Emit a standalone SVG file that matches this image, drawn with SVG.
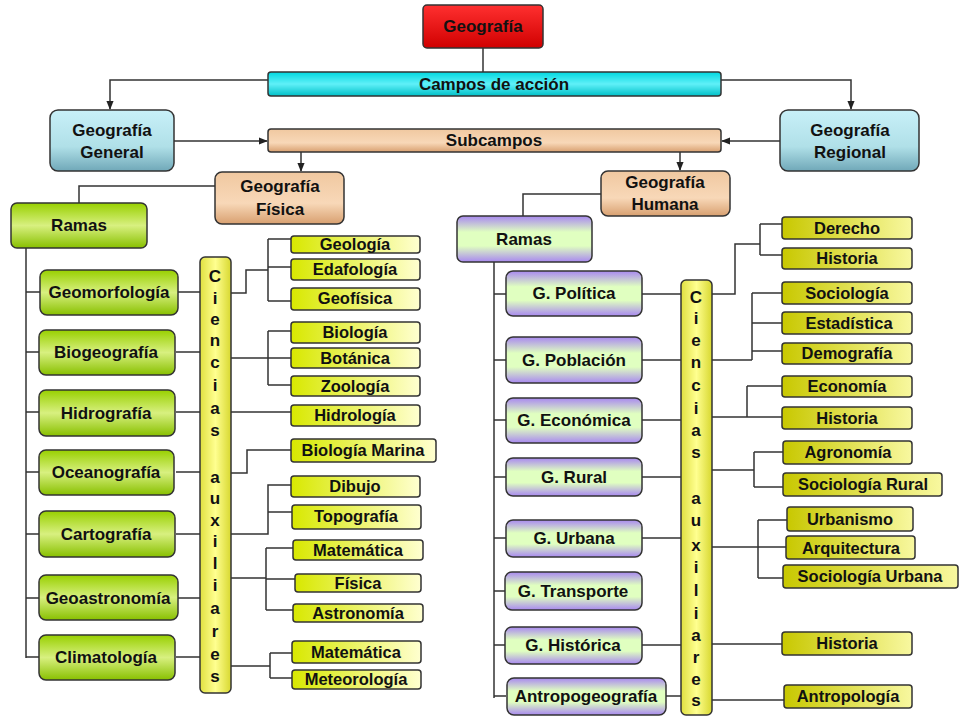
<svg xmlns="http://www.w3.org/2000/svg" width="960" height="720" viewBox="0 0 960 720">
<defs>
<linearGradient id="gRed" x1="0" y1="0" x2="0" y2="1"><stop offset="0" stop-color="#ff3030"/><stop offset="1" stop-color="#d00000"/></linearGradient>
<linearGradient id="gCyan" x1="0" y1="0" x2="0" y2="1"><stop offset="0" stop-color="#00d8e0"/><stop offset=".5" stop-color="#60f0f8"/><stop offset="1" stop-color="#00c0c8"/></linearGradient>
<linearGradient id="gTan" x1="0" y1="0" x2="0" y2="1"><stop offset="0" stop-color="#f0c8a0"/><stop offset=".6" stop-color="#f8d8b8"/><stop offset="1" stop-color="#d8a070"/></linearGradient>
<linearGradient id="gBlue" x1="0" y1="0" x2="0" y2="1"><stop offset="0" stop-color="#c8f0f8"/><stop offset=".6" stop-color="#b0e0e8"/><stop offset="1" stop-color="#70a8b8"/></linearGradient>
<linearGradient id="gGreen" x1="0" y1="0" x2="0" y2="1"><stop offset="0" stop-color="#98d000"/><stop offset=".5" stop-color="#d8f080"/><stop offset="1" stop-color="#88c000"/></linearGradient>
<linearGradient id="gPurple" x1="0" y1="0" x2="0" y2="1"><stop offset="0" stop-color="#a888f0"/><stop offset=".35" stop-color="#e0ffc0"/><stop offset=".65" stop-color="#e0ffc0"/><stop offset="1" stop-color="#a888f0"/></linearGradient>
<linearGradient id="gYel" x1="0" y1="0" x2="1" y2="0"><stop offset="0" stop-color="#d8e800"/><stop offset="1" stop-color="#ffffd0"/></linearGradient>
<linearGradient id="gOlive" x1="0" y1="0" x2="1" y2="0"><stop offset="0" stop-color="#c8c800"/><stop offset="1" stop-color="#f8f8a0"/></linearGradient>
<linearGradient id="gCol" x1="0" y1="0" x2="1" y2="0"><stop offset="0" stop-color="#e0e040"/><stop offset=".5" stop-color="#ffff90"/><stop offset="1" stop-color="#d8d830"/></linearGradient>
<marker id="arr" viewBox="0 0 10 10" refX="9" refY="5" markerWidth="6" markerHeight="6" orient="auto"><path d="M0,1 L10,5 L0,9 z" fill="#222"/></marker>
</defs>
<style>
rect{stroke:#333;stroke-width:1.5}
text{font-family:"Liberation Sans",Arial,sans-serif;font-weight:bold;fill:#111;text-anchor:middle;dominant-baseline:central}
.m{font-size:17px}
.s{font-size:16.5px}
.v{font-size:17px}
#connectors path{fill:none;stroke:#333;stroke-width:1.5}
</style>
<g id="connectors">
<path d="M483,48V72"/>
<path d="M268,80H110V109" marker-end="url(#arr)"/>
<path d="M721,80H851V109" marker-end="url(#arr)"/>
<path d="M174,141H267" marker-end="url(#arr)"/>
<path d="M780,141H722" marker-end="url(#arr)"/>
<path d="M301,152V171" marker-end="url(#arr)"/>
<path d="M680,152V170" marker-end="url(#arr)"/>
<path d="M215,186H79V203"/>
<path d="M26,248V658"/>
<path d="M26,292H40M26,352H40M26,412H40M26,472H40M26,534H40M26,598H40M26,657H40"/>
<path d="M176,292H200M176,352H200M176,412H200M176,472H200M176,534H200M176,598H200M176,657H200"/>
<path d="M231,293H246V270H268M268,239V301M268,239H291M268,267H291M268,301H291"/>
<path d="M231,358H268M268,331V385M268,331H291M268,358H291M268,385H291"/>
<path d="M231,412H291"/>
<path d="M231,473H247V450H291"/>
<path d="M231,534H268V485H291M268,512H292"/>
<path d="M231,578H266M266,548V610M266,548H293M266,579H295M266,610H293"/>
<path d="M231,666H270M270,653V678M270,653H292M270,678H292"/>
<path d="M601,194H523V216"/>
<path d="M494,262V698"/>
<path d="M494,294H506M494,360H506M494,420H506M494,477H506M494,538H506M494,591H506M494,645H506M494,696H506"/>
<path d="M642,294H681M642,360H681M642,420H681M642,477H681M642,538H681M642,645H681M666,696H681"/>
<path d="M712,294H735V244H760M760,224V255M760,224H782M760,255H782"/>
<path d="M712,360H752M752,293V360M752,293H782M752,323H782M752,351H782"/>
<path d="M712,417H747M747,386V417M747,386H782M747,417H782"/>
<path d="M712,470H754M754,452V487M754,452H783M754,487H783"/>
<path d="M712,547H786M758,520V578M758,520H787M758,578H783"/>
<path d="M712,644H782"/>
<path d="M712,700H784"/>
</g>
<g id="geografia"><rect x="423" y="5" width="120" height="43" rx="4" fill="url(#gRed)"/><text class="m" x="483" y="26">Geografía</text></g>
<g id="campos"><rect x="268" y="72" width="453" height="24" rx="3" fill="url(#gCyan)"/><text class="m" x="494" y="84">Campos  de acción</text></g>
<g id="subcampos"><rect x="268" y="129" width="453" height="23" rx="3" fill="url(#gTan)"/><text class="m" x="494" y="140">Subcampos</text></g>
<g id="general"><rect x="50" y="110" width="124" height="61" rx="8" fill="url(#gBlue)"/><text class="m" x="112" y="130">Geografía</text><text class="m" x="112" y="152">General</text></g>
<g id="regional"><rect x="780" y="110" width="139" height="61" rx="8" fill="url(#gBlue)"/><text class="m" x="850" y="130">Geografía</text><text class="m" x="850" y="152">Regional</text></g>
<g id="fisica"><rect x="215" y="172" width="129" height="52" rx="7" fill="url(#gTan)"/><text class="m" x="280" y="186">Geografía</text><text class="m" x="280" y="209">Física</text></g>
<g id="humana"><rect x="601" y="171" width="129" height="45" rx="7" fill="url(#gTan)"/><text class="m" x="665" y="182">Geografía</text><text class="m" x="665" y="204">Humana</text></g>
<g id="ramasF"><rect x="11" y="203" width="136" height="45" rx="6" fill="url(#gGreen)"/><text class="m" x="79" y="225">Ramas</text></g>
<g id="ramasH"><rect x="457" y="216" width="135" height="46" rx="6" fill="url(#gPurple)"/><text class="m" x="524" y="239">Ramas</text></g>
<g id="ramasFisica">
<rect x="40" y="270" width="138" height="45" rx="7" fill="url(#gGreen)"/><text class="m" x="109" y="292">Geomorfología</text>
<rect x="39" y="330" width="136" height="45" rx="7" fill="url(#gGreen)"/><text class="m" x="106" y="352">Biogeografía</text>
<rect x="39" y="390" width="136" height="46" rx="7" fill="url(#gGreen)"/><text class="m" x="106" y="413">Hidrografía</text>
<rect x="39" y="450" width="135" height="45" rx="7" fill="url(#gGreen)"/><text class="m" x="106" y="472">Oceanografía</text>
<rect x="39" y="511" width="136" height="46" rx="7" fill="url(#gGreen)"/><text class="m" x="106" y="534">Cartografía</text>
<rect x="39" y="575" width="139" height="45" rx="7" fill="url(#gGreen)"/><text class="m" x="108" y="598">Geoastronomía</text>
<rect x="39" y="635" width="136" height="45" rx="7" fill="url(#gGreen)"/><text class="m" x="106" y="657">Climatología</text>
</g>
<g id="cienciasF"><rect x="200" y="257" width="31" height="436" rx="5" fill="url(#gCol)"/>
<text class="v" x="215" y="276">C</text><text class="v" x="215" y="298">i</text><text class="v" x="215" y="319">e</text><text class="v" x="215" y="340">n</text><text class="v" x="215" y="362">c</text><text class="v" x="215" y="385">i</text><text class="v" x="215" y="408">a</text><text class="v" x="215" y="430">s</text><text class="v" x="215" y="477">a</text><text class="v" x="215" y="498">u</text><text class="v" x="215" y="520">x</text><text class="v" x="215" y="541">i</text><text class="v" x="215" y="563">l</text><text class="v" x="215" y="585">i</text><text class="v" x="215" y="608">a</text><text class="v" x="215" y="631">r</text><text class="v" x="215" y="654">e</text><text class="v" x="215" y="676">s</text>
</g>
<g id="auxF">
<rect x="291" y="236" width="129" height="17" rx="3" fill="url(#gYel)"/><text class="s" x="355" y="244">Geología</text>
<rect x="291" y="259" width="129" height="21" rx="3" fill="url(#gYel)"/><text class="s" x="355" y="269">Edafología</text>
<rect x="291" y="288" width="129" height="22" rx="3" fill="url(#gYel)"/><text class="s" x="355" y="298">Geofísica</text>
<rect x="291" y="322" width="129" height="21" rx="3" fill="url(#gYel)"/><text class="s" x="355" y="332">Biología</text>
<rect x="291" y="348" width="129" height="20" rx="3" fill="url(#gYel)"/><text class="s" x="355" y="358">Botánica</text>
<rect x="291" y="376" width="129" height="20" rx="3" fill="url(#gYel)"/><text class="s" x="355" y="386">Zoología</text>
<rect x="291" y="405" width="129" height="21" rx="3" fill="url(#gYel)"/><text class="s" x="355" y="415">Hidrología</text>
<rect x="291" y="439" width="145" height="23" rx="3" fill="url(#gYel)"/><text class="s" x="363" y="450">Biología Marina</text>
<rect x="291" y="476" width="129" height="21" rx="3" fill="url(#gYel)"/><text class="s" x="355" y="486">Dibujo</text>
<rect x="292" y="505" width="129" height="24" rx="3" fill="url(#gYel)"/><text class="s" x="356" y="516">Topografía</text>
<rect x="293" y="540" width="130" height="20" rx="3" fill="url(#gYel)"/><text class="s" x="358" y="550">Matemática</text>
<rect x="295" y="574" width="126" height="18" rx="3" fill="url(#gYel)"/><text class="s" x="358" y="583">Física</text>
<rect x="293" y="604" width="130" height="18" rx="3" fill="url(#gYel)"/><text class="s" x="358" y="613">Astronomía</text>
<rect x="292" y="641" width="129" height="22" rx="3" fill="url(#gYel)"/><text class="s" x="356" y="652">Matemática</text>
<rect x="292" y="670" width="129" height="19" rx="3" fill="url(#gYel)"/><text class="s" x="356" y="679">Meteorología</text>
</g>
<g id="ramasHumana">
<rect x="506" y="271" width="136" height="45" rx="7" fill="url(#gPurple)"/><text class="m" x="574" y="293">G. Política</text>
<rect x="506" y="337" width="136" height="46" rx="7" fill="url(#gPurple)"/><text class="m" x="574" y="360">G. Población</text>
<rect x="506" y="398" width="136" height="45" rx="7" fill="url(#gPurple)"/><text class="m" x="574" y="420">G. Económica</text>
<rect x="506" y="458" width="136" height="38" rx="7" fill="url(#gPurple)"/><text class="m" x="574" y="477">G. Rural</text>
<rect x="506" y="520" width="136" height="37" rx="7" fill="url(#gPurple)"/><text class="m" x="574" y="538">G. Urbana</text>
<rect x="505" y="572" width="137" height="38" rx="7" fill="url(#gPurple)"/><text class="m" x="573" y="591">G. Transporte</text>
<rect x="505" y="627" width="137" height="37" rx="7" fill="url(#gPurple)"/><text class="m" x="573" y="645">G. Histórica</text>
<rect x="507" y="678" width="159" height="37" rx="7" fill="url(#gPurple)"/><text class="m" x="586" y="696">Antropogeografía</text>
</g>
<g id="cienciasH"><rect x="681" y="280" width="31" height="435" rx="5" fill="url(#gCol)"/>
<text class="v" x="696" y="297">C</text><text class="v" x="696" y="318">i</text><text class="v" x="696" y="340">e</text><text class="v" x="696" y="362">n</text><text class="v" x="696" y="385">c</text><text class="v" x="696" y="408">i</text><text class="v" x="696" y="430">a</text><text class="v" x="696" y="452">s</text><text class="v" x="696" y="498">a</text><text class="v" x="696" y="520">u</text><text class="v" x="696" y="545">x</text><text class="v" x="696" y="567">i</text><text class="v" x="696" y="590">l</text><text class="v" x="696" y="613">i</text><text class="v" x="696" y="635">a</text><text class="v" x="696" y="657">r</text><text class="v" x="696" y="679">e</text><text class="v" x="696" y="700">s</text>
</g>
<g id="auxH">
<rect x="782" y="217" width="130" height="22" rx="3" fill="url(#gOlive)"/><text class="s" x="847" y="228">Derecho</text>
<rect x="782" y="248" width="130" height="21" rx="3" fill="url(#gOlive)"/><text class="s" x="847" y="258">Historia</text>
<rect x="782" y="282" width="130" height="22" rx="3" fill="url(#gOlive)"/><text class="s" x="847" y="293">Sociología</text>
<rect x="782" y="312" width="130" height="22" rx="3" fill="url(#gOlive)"/><text class="s" x="849" y="323">Estadística</text>
<rect x="782" y="343" width="130" height="21" rx="3" fill="url(#gOlive)"/><text class="s" x="847" y="353">Demografía</text>
<rect x="782" y="376" width="130" height="21" rx="3" fill="url(#gOlive)"/><text class="s" x="847" y="386">Economía</text>
<rect x="782" y="407" width="130" height="22" rx="3" fill="url(#gOlive)"/><text class="s" x="847" y="418">Historia</text>
<rect x="783" y="441" width="129" height="23" rx="3" fill="url(#gOlive)"/><text class="s" x="848" y="452">Agronomía</text>
<rect x="783" y="473" width="159" height="23" rx="3" fill="url(#gOlive)"/><text class="s" x="863" y="484">Sociología Rural</text>
<rect x="787" y="507" width="126" height="24" rx="3" fill="url(#gOlive)"/><text class="s" x="850" y="519">Urbanismo</text>
<rect x="786" y="536" width="129" height="23" rx="3" fill="url(#gOlive)"/><text class="s" x="851" y="548">Arquitectura</text>
<rect x="783" y="565" width="175" height="23" rx="3" fill="url(#gOlive)"/><text class="s" x="870" y="576">Sociología Urbana</text>
<rect x="782" y="632" width="130" height="23" rx="3" fill="url(#gOlive)"/><text class="s" x="847" y="643">Historia</text>
<rect x="784" y="685" width="128" height="23" rx="3" fill="url(#gOlive)"/><text class="s" x="848" y="696">Antropología</text>
</g>
</svg>
